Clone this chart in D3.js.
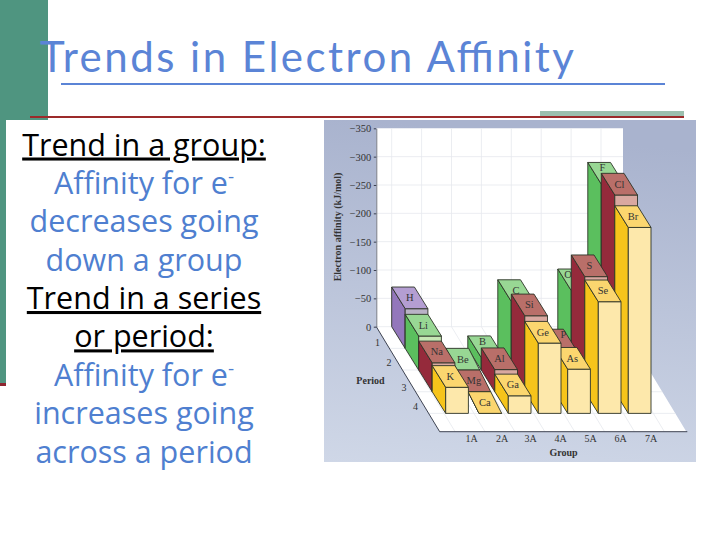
<!DOCTYPE html>
<html><head><meta charset="utf-8">
<script src="https://cdn.jsdelivr.net/npm/d3@7"></script>
<style>html,body{margin:0;padding:0;background:#fff;overflow:hidden}svg{display:block}text{text-decoration-skip-ink:none}</style>
</head><body><div id="c"></div>
<script>
const groups = ["1A","2A","3A","4A","5A","6A","7A"];
const periods = [1,2,3,4];
const yTicks = [0,-50,-100,-150,-200,-250,-300,-350];
const symbols1 = ["H",null,null,null,null,null,null];
const values1  = [-70,null,null,null,null,null,null];
const symbols2 = ["Li","Be","B","C",null,"O","F"];
const values2  = [-60,0,-22,-121,null,-140,-328];
const symbols3 = ["Na","Mg","Al","Si","P","S","Cl"];
const values3  = [-51,0,-39,-134,-72,-203,-347];
const symbols4 = ["K","Ca","Ga","Ge","As","Se","Br"];
const values4  = [-46,0,-31,-124,-78,-197,-328];
const titleText = "Trends in Electron Affinity";
const bodyLines = [
 ["Trend in a group:",1],["Affinity for e",0,"-"],["decreases going",0],["down a group",0],
 ["Trend in a series",1],["or period:",1],["Affinity for e",0,"-"],["increases going",0],["across a period",0]];

const W=720,H=540;
const svg=d3.select("#c").append("svg").attr("width",W).attr("height",H);
const defs=svg.append("defs");
const g=defs.append("linearGradient").attr("id","bg").attr("x1",0.1).attr("y1",0).attr("x2",0).attr("y2",1);
g.append("stop").attr("offset",0).attr("stop-color","#a9b3ce");
g.append("stop").attr("offset",1).attr("stop-color","#cfd7e7");

// slide furniture
svg.append("rect").attr("x",0).attr("y",0).attr("width",48).attr("height",120).attr("fill","#4f9580");
svg.append("rect").attr("x",0).attr("y",120).attr("width",6).attr("height",263).attr("fill","#4f9580");
svg.append("rect").attr("x",0).attr("y",383).attr("width",6).attr("height",3).attr("fill","#8e2630");
svg.append("rect").attr("x",540).attr("y",111).attr("width",144).attr("height",6).attr("fill","#9cbfae");
svg.append("rect").attr("x",30).attr("y",116).attr("width",654).attr("height",2).attr("fill","#9c2a2a");
svg.append("rect").attr("x",61).attr("y",83).attr("width",604).attr("height",2).attr("fill","#5b84d6");
svg.append("text").attr("x",40).attr("y",72).attr("font-family","Lato, sans-serif").attr("font-size",42)
  .attr("fill","#5b84d6").attr("textLength",534).attr("lengthAdjust","spacing").text(titleText);

// body text
const lineY=d3.scalePoint().domain(d3.range(bodyLines.length)).range([155.5,462.5]);
const body=svg.append("g").attr("font-family","'Open Sans','Noto Sans',sans-serif").attr("font-size",30.5).attr("text-anchor","middle");
bodyLines.forEach((l,i)=>{
  const t=body.append("text").attr("x",144).attr("y",lineY(i)).attr("fill",l[1]?"#000":"#4f7fd0")
    .attr("text-decoration",l[1]?"underline":null).text(l[0]);
  if(l[2]) t.append("tspan").attr("dy",-11).attr("font-size",19).text(l[2]);
});

// chart panel
svg.append("rect").attr("x",324).attr("y",120).attr("width",372).attr("height",342).attr("fill","url(#bg)");

const y0=326.7, wallL=376.3, wallR=623, floorFront=431.7, floorL=439.7;
const yS=d3.scaleLinear().domain([0,-350]).range([y0,128.3]);
const colX=d3.scaleOrdinal().domain(groups).range([445.7,479,508.3,538.3,567.7,598.3,628.3]);
const depthX=d3.scaleOrdinal().domain(groups).range([13.5,11,13.5,13.5,13.5,13.5,13.5]);
const barW=22.7, depthY=21.67;
const slant=(floorL-wallL)/(floorFront-y0); // dx per dy on the floor
const c=svg.append("g");
const poly=(pts)=>pts.map(p=>p.join(",")).join(" ");

c.append("polygon").attr("fill","#fff").attr("points",poly([[wallL,128.3],[wallR,128.3],[wallR,y0],
 [wallR+(floorFront-y0)*slant,floorFront],[floorL,floorFront],[wallL,y0]]));

// grid
const gridIdx=d3.range(8);
const gridX=d3.scaleLinear().domain([0,7]).range([391.7,601]);
const grid=c.append("g").attr("stroke","#e6e8ee").attr("stroke-width",0.8);
gridIdx.forEach(i=>{
  const x=gridX(i);
  grid.append("line").attr("x1",x).attr("x2",x).attr("y1",128.3).attr("y2",y0);
  grid.append("line").attr("x1",x).attr("y1",y0).attr("x2",x+slant*(floorFront-y0)).attr("y2",floorFront);
});
yTicks.slice(0,7).forEach(v=>{
  grid.append("line").attr("x1",wallL).attr("x2",wallR).attr("y1",yS(v)).attr("y2",yS(v));
});
periods.forEach(p=>{
  const yy=y0+depthY*p, dxx=slant*(yy-y0);
  grid.append("line").attr("x1",wallL+dxx).attr("x2",wallR+dxx).attr("y1",yy).attr("y2",yy);
});
// axes frame
const ax=c.append("g").attr("stroke","#2a3040").attr("stroke-width",0.9);
ax.append("line").attr("x1",wallL).attr("y1",y0).attr("x2",floorL).attr("y2",floorFront);
ax.append("line").attr("x1",floorL).attr("y1",floorFront).attr("x2",687.3).attr("y2",floorFront);

const yAxis=d3.axisLeft(yS).tickValues(yTicks).tickSize(2.5).tickPadding(2.5).tickSizeOuter(0);
const ya=c.append("g").attr("transform",`translate(${wallL},0)`).call(yAxis);
ya.select(".domain").attr("stroke","#3a4050").attr("stroke-width",0.7);
ya.selectAll("line").attr("stroke","#3a4050");
ya.selectAll("text").attr("font-family","'Liberation Serif',serif").attr("font-size",10.5).attr("fill","#333");

// bars
const palette=d3.scaleOrdinal().domain(periods).range([
 {side:"#9377bb",top:"#b49ed2",front:"#b9b2c6"},
 {side:"#5bbf5e",top:"#98d794",front:"#c6e6b4"},
 {side:"#952a3b",top:"#b96f69",front:"#d9a8a0"},
 {side:"#f6c41b",top:"#fbd66f",front:"#fde8ab"}]);
const rows=[[symbols1,values1],[symbols2,values2],[symbols3,values3],[symbols4,values4]];
const depthOff=d3.scaleLinear().domain([4,1]).range([0,3]);
const rearLabels=["B","O","F"]; // labels sitting towards the back, clear of the bar in front
const labelNudge={O:[-4.5,0],P:[4.5,-5]};
const bars=c.append("g").attr("stroke","#2c3327").attr("stroke-width",0.9).attr("stroke-linejoin","round");
rows.forEach(([sym,val],ri)=>{
  const p=periods[ri], col=palette(p);
  for(let k=groups.length-1;k>=0;k--){
    if(val[k]==null) continue;
    const gk=groups[k], dX=depthX(gk);
    const fx=colX(gk)-dX*depthOff(p);         // front-left x
    const fy=y0+depthY*p;                     // front base y
    const bx=fx-dX, by=fy-depthY;             // back-left
    const h=y0-yS(val[k]);
    const b=bars.append("g");
    b.append("polygon").attr("fill",col.side).attr("points",poly([[bx,by],[fx,fy],[fx,fy-h],[bx,by-h]]));
    b.append("polygon").attr("fill",col.front).attr("points",poly([[fx,fy],[fx+barW,fy],[fx+barW,fy-h],[fx,fy-h]]));
    b.append("polygon").attr("fill",col.top).attr("points",poly([[bx,by-h],[bx+barW,by-h],[fx+barW,fy-h],[fx,fy-h]]));
    const frac=rearLabels.includes(sym[k])?0.25:0.5;
    const [nx,ny]=labelNudge[sym[k]]||[0,0];
    b.append("text").attr("x",bx+barW/2+dX*frac+nx).attr("y",by+depthY*frac-h+3.4+ny).attr("text-anchor","middle")
      .attr("stroke","none").attr("fill","#333").attr("font-family","'Liberation Serif',serif").attr("font-size",10.5).text(sym[k]);
  }
});

// axis labels
const serif="'Liberation Serif',serif";
const periodX=d3.scaleOrdinal().domain(periods).range([377.5,389,404,415.5]);
const periodY=d3.scaleOrdinal().domain(periods).range([346,365.5,390.5,409.5]);
periods.forEach(p=>c.append("text").attr("x",periodX(p)).attr("y",periodY(p)).attr("text-anchor","middle")
  .attr("font-family",serif).attr("font-size",10).attr("fill","#333").text(p));
const gLabelX=d3.scaleOrdinal().domain(groups).range([471.7,502,530.7,560.7,590.7,620.7,651]);
groups.forEach(k=>c.append("text").attr("x",gLabelX(k)).attr("y",442).attr("text-anchor","middle")
  .attr("font-family",serif).attr("font-size",10).attr("fill","#333").text(k));
c.append("text").attr("x",563.5).attr("y",455.5).attr("text-anchor","middle").attr("font-family",serif)
  .attr("font-weight","bold").attr("font-size",10).attr("fill","#333").text("Group");
c.append("text").attr("x",370.5).attr("y",384).attr("text-anchor","middle").attr("font-family",serif)
  .attr("font-weight","bold").attr("font-size",10).attr("fill","#333").text("Period");
c.append("text").attr("transform","translate(341,227) rotate(-90)").attr("text-anchor","middle").attr("font-family",serif)
  .attr("font-weight","bold").attr("font-size",10).attr("fill","#333").text("Electron affinity (kJ/mol)");
</script></body></html>
